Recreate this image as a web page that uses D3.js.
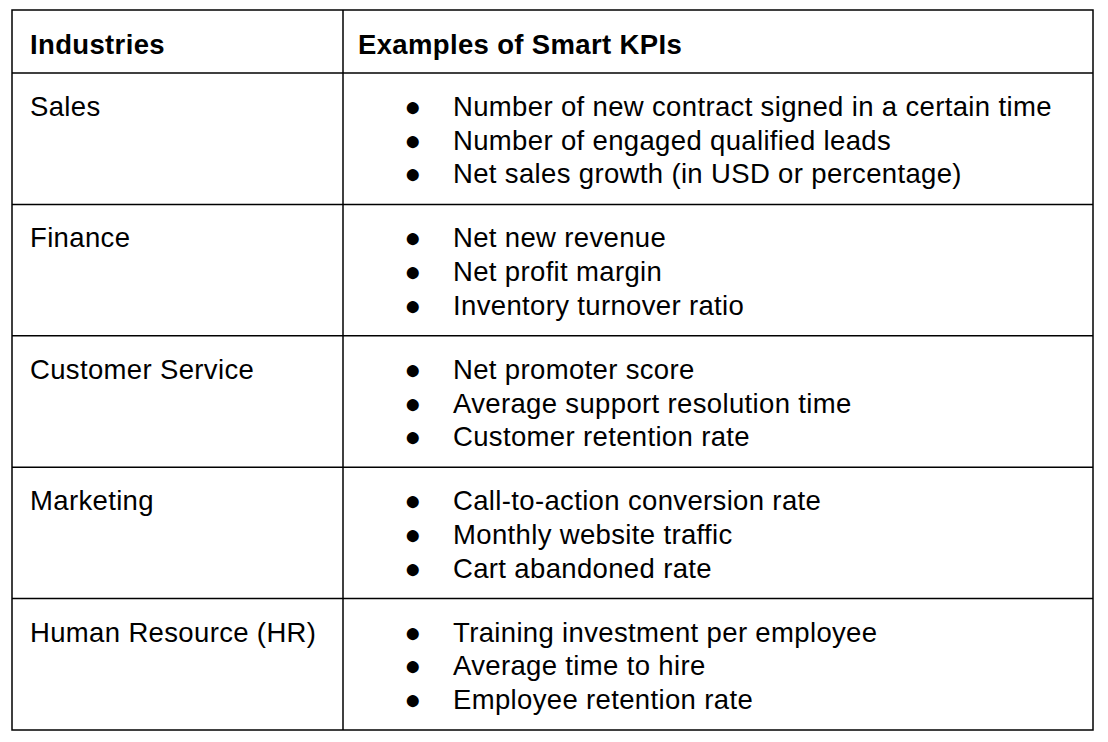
<!DOCTYPE html>
<html><head><meta charset="utf-8">
<script src="https://cdn.jsdelivr.net/npm/d3@7"></script>
<style>body{margin:0;background:#fff}</style></head>
<body><svg id="c" width="1108" height="742"></svg>
<script>
const headers = ["Industries", "Examples of Smart KPIs"];
const industries = ["Sales", "Finance", "Customer Service", "Marketing", "Human Resource (HR)"];
const kpis = [
  ["Number of new contract signed in a certain time", "Number of engaged qualified leads", "Net sales growth (in USD or percentage)"],
  ["Net new revenue", "Net profit margin", "Inventory turnover ratio"],
  ["Net promoter score", "Average support resolution time", "Customer retention rate"],
  ["Call-to-action conversion rate", "Monthly website traffic", "Cart abandoned rate"],
  ["Training investment per employee", "Average time to hire", "Employee retention rate"]
];
const svg = d3.select("#c");
const L = 12, R = 1093, T = 10, H = 73, B = 730, MID = 343;
const rowY = d3.scaleLinear().domain([0, industries.length]).range([H, B]);
const font = "'Liberation Sans', Arial, sans-serif";
const g = svg.append("g").attr("font-family", font).attr("font-size", 27.5).attr("letter-spacing", 0.35).attr("fill", "#000");
svg.append("rect").attr("x", L).attr("y", T).attr("width", R - L).attr("height", B - T)
  .attr("fill", "none").attr("stroke", "#000").attr("stroke-width", 1.5);
svg.append("line").attr("x1", MID).attr("x2", MID).attr("y1", T).attr("y2", B).attr("stroke", "#000").attr("stroke-width", 1.5);
svg.selectAll(".hl").data(d3.range(industries.length)).enter().append("line")
  .attr("x1", L).attr("x2", R).attr("y1", d => rowY(d)).attr("y2", d => rowY(d))
  .attr("stroke", "#000").attr("stroke-width", 1.5);
g.selectAll(".h").data(headers).enter().append("text")
  .attr("x", (d, i) => i ? 358 : 30).attr("y", 54).attr("font-weight", "bold").text(d => d);
g.selectAll(".ind").data(industries).enter().append("text")
  .attr("x", 30).attr("y", (d, i) => rowY(i) + 43).text(d => d);
industries.forEach((ind, i) => {
  kpis[i].forEach((k, j) => {
    const y = rowY(i) + 43 + j * 33.7;
    g.append("text").attr("x", 413).attr("y", y).attr("text-anchor", "middle").attr("letter-spacing", 0).attr("font-size", 28).text("●");
    g.append("text").attr("x", 453).attr("y", y).text(k);
  });
});
</script></body></html>
